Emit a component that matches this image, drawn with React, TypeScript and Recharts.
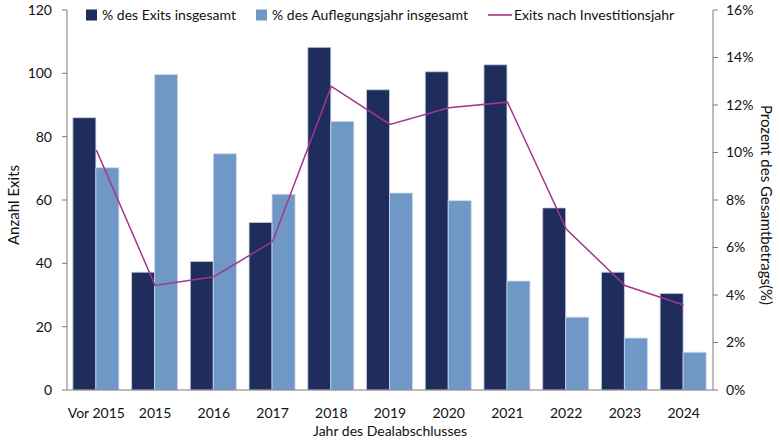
import React from 'react';
import { ComposedChart, Bar, Line, XAxis, YAxis, Legend } from 'recharts';

const categories = ['Vor 2015', '2015', '2016', '2017', '2018', '2019', '2020', '2021', '2022', '2023', '2024'];
// % des Exits insgesamt (left axis, Anzahl)
const exitsTotal = [86, 37.2, 40.6, 52.9, 108.2, 94.8, 100.5, 102.7, 57.5, 37.2, 30.5];
// % des Auflegungsjahr insgesamt (left axis)
const vintageTotal = [70.2, 99.6, 74.6, 61.8, 84.8, 62.2, 59.8, 34.4, 23, 16.4, 11.9];
// Exits nach Investitionsjahr (right axis, %)
const exitsByYear = [10.1, 4.4, 4.77, 6.25, 12.78, 11.18, 11.88, 12.12, 6.78, 4.4, 3.58];

const leftTicks = [0, 20, 40, 60, 80, 100, 120];
const rightTicks = [0, 2, 4, 6, 8, 10, 12, 14, 16];

const DARK = '#1f2d5d';
const LIGHT = '#7098c6';
const LINE = '#a3378f';
const AXIS = '#7a7a7a';
const FONT = 'Lato, "Noto Sans", sans-serif';

const data = categories.map((label, i) => ({
  label,
  exits: exitsTotal[i],
  vintage: vintageTotal[i],
  byYear: exitsByYear[i],
}));

const legendOrder = ['exits', 'vintage', 'byYear'];

// Legend drawn from the payload, kept in series order
const LegendContent = ({ payload }: any) => {
  const items = [...(payload || [])].sort(
    (a: any, b: any) => legendOrder.indexOf(a.dataKey) - legendOrder.indexOf(b.dataKey)
  );
  return (
    <div style={{ display: 'flex', alignItems: 'center', fontFamily: FONT, fontSize: 14, color: '#111' }}>
      {items.map((item: any) => (
        <div key={item.dataKey} style={{ display: 'flex', alignItems: 'center', marginRight: 20 }}>
          {item.type === 'line' ? (
            <svg width={24} height={12} style={{ marginRight: 2 }}>
              <line x1={0} y1={6} x2={24} y2={6} stroke={item.color} strokeWidth={1.6} />
            </svg>
          ) : (
            <svg width={12} height={12} style={{ marginRight: 4 }}>
              <rect x={0} y={0.5} width={11} height={11} fill={item.color} />
            </svg>
          )}
          <span>{item.value}</span>
        </div>
      ))}
    </div>
  );
};

// rotated axis title, centred a little below the plot middle like the original
const AxisTitle = ({ viewBox, title, posX, rot }: any) => {
  const cy = (viewBox && viewBox.height ? viewBox.y + viewBox.height / 2 : 200) + 5;
  return (
    <text
      x={posX}
      y={cy}
      transform={`rotate(${rot}, ${posX}, ${cy})`}
      textAnchor="middle"
      dominantBaseline="central"
      fontFamily={FONT}
      fontSize={15}
      fill="#111"
    >
      {title}
    </text>
  );
};

export default function App() {
  const tickStyle = { fontFamily: FONT, fontSize: 14, fill: '#111' };
  return (
    <div style={{ position: 'absolute', left: 0, top: 0, background: '#fff' }}>
      <ComposedChart
        width={780}
        height={441}
        data={data}
        margin={{ top: 10, right: 0, bottom: 0, left: 0 }}
        barCategoryGap="10%"
        barGap={0}
      >
        <XAxis
          dataKey="label"
          tickLine={false}
          axisLine={{ stroke: AXIS }}
          tick={tickStyle}
          tickMargin={12}
          height={51}
          interval={0}
          label={{
            value: 'Jahr des Dealabschlusses',
            position: 'insideBottom',
            offset: 5,
            style: { fontFamily: FONT, fontSize: 14, fill: '#111' },
          }}
        />
        <YAxis
          yAxisId="left"
          domain={[0, 120]}
          ticks={leftTicks}
          width={67}
          tickSize={5}
          tickMargin={10}
          tickLine={{ stroke: AXIS }}
          axisLine={{ stroke: AXIS }}
          tick={tickStyle}
          label={{ content: (p: any) => <AxisTitle viewBox={p.viewBox} posX={13} rot={-90} title="Anzahl Exits" /> }}
        />
        <YAxis
          yAxisId="right"
          orientation="right"
          domain={[0, 16]}
          ticks={rightTicks}
          width={67}
          tickSize={5}
          tickMargin={8}
          tickLine={{ stroke: AXIS }}
          axisLine={{ stroke: AXIS }}
          tick={tickStyle}
          tickFormatter={(v: number) => `${v}%`}
          label={{
            content: (p: any) => (
              <AxisTitle viewBox={p.viewBox} posX={767} rot={90} title="Prozent des Gesamtbetrags(%)" />
            ),
          }}
        />
        <Legend
          verticalAlign="middle"
          layout="horizontal"
          content={<LegendContent />}
          wrapperStyle={{ top: 6, left: 86, width: 'auto' }}
        />
        <Bar
          yAxisId="left"
          dataKey="exits"
          name="% des Exits insgesamt"
          fill={DARK}
          stroke="#c9d0e2"
          strokeWidth={0.8}
          isAnimationActive={false}
        />
        <Bar
          yAxisId="left"
          dataKey="vintage"
          name="% des Auflegungsjahr insgesamt"
          fill={LIGHT}
          stroke="#c9d6ea"
          strokeWidth={0.8}
          isAnimationActive={false}
        />
        <Line
          yAxisId="right"
          type="linear"
          dataKey="byYear"
          name="Exits nach Investitionsjahr"
          stroke={LINE}
          strokeWidth={1.5}
          dot={false}
          activeDot={false}
          isAnimationActive={false}
        />
      </ComposedChart>
    </div>
  );
}
